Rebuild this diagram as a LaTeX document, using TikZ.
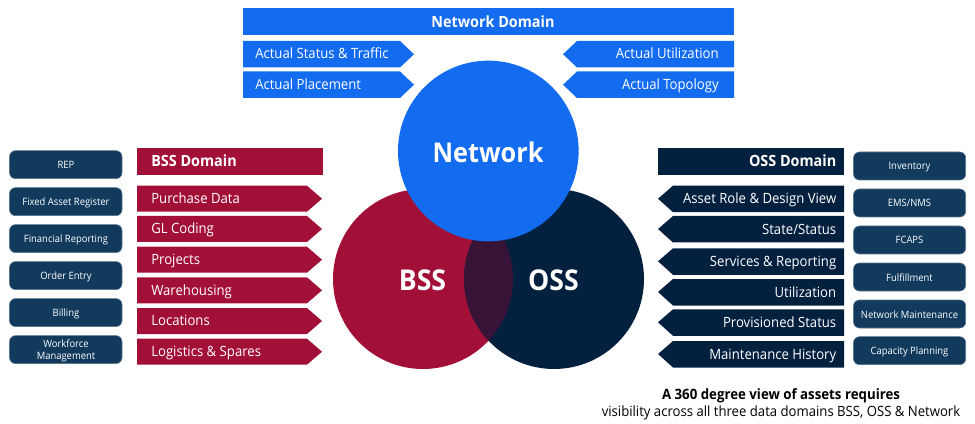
\documentclass[tikz,border=0pt]{standalone}
\usepackage{fontspec}
\setmainfont{Open Sans}[FakeStretch=0.93]
\definecolor{bssred}{HTML}{A31037}
\definecolor{ossnavy}{HTML}{04203F}
\definecolor{netblue}{HTML}{136BF0}
\definecolor{sysblue}{HTML}{123A5C}
\definecolor{lapdark}{HTML}{371437}
\tikzset{
	bartext/.style={text=white,font=\fontsize{10.6}{12}\selectfont,inner sep=0pt},
	headtext/.style={text=white,font=\fontsize{11.6}{13}\selectfont\bfseries,inner sep=0pt},
	systext/.style={text=white,font=\fontsize{7.6}{9.4}\selectfont,inner sep=0pt,align=center,execute at begin node={\vphantom{Ey}}},
	sysbox/.style={fill=sysblue,draw=sysblue!70,rounded corners=4.5pt,thin},
	disc/.style={circle,inner sep=0pt,minimum size=135pt},
	disctext/.style={text=white,font=\fontsize{21.5}{24}\selectfont\bfseries,inner sep=0pt}
}
\begin{document}
\begin{tikzpicture}[x=0.75pt,y=-0.75pt]
	\useasboundingbox (0,0) rectangle (975,424);

	% circles
	\node (bss) [disc,fill=bssred] at (423,279) {};
	\node (oss) [disc,fill=ossnavy] at (554,279) {};
	\begin{scope}
		\clip (bss.center) circle (90);
		\fill[lapdark] (oss.center) circle (90);
	\end{scope}
	\node (bsstext) [disctext] at (422.5,280) {BSS};
	\node (osstext) [disctext] at (553.5,280) {OSS};
	\node (network) [disc,fill=netblue,minimum size=135.5pt] at (488.3,151) {};
	\node (nettext) [disctext,font=\fontsize{20.4}{24}\selectfont\bfseries] at (488,152) {Network};

	% network domain
	\fill[netblue] (243,8.5) rectangle (734,35.5);
	\node (nethead) [headtext] at (493,22) {Network Domain};
	\foreach \ytop/\txt [count=\i] in {41/Actual Status \& Traffic,71.5/Actual Placement} {
		\fill[netblue] (243,\ytop) -- (400,\ytop) -- (414,\ytop+13.2) -- (400,\ytop+26.5) -- (243,\ytop+26.5) -- cycle;
		\node (netl\i) [bartext,anchor=base west] at (255,\ytop+18) {\txt};
	}
	\foreach \ytop/\txt [count=\i] in {41/Actual Utilization,71.5/Actual Topology} {
		\fill[netblue] (734,\ytop) -- (577,\ytop) -- (563,\ytop+13.2) -- (577,\ytop+26.5) -- (734,\ytop+26.5) -- cycle;
		\node (netr\i) [bartext,anchor=base east] at (719,\ytop+18) {\txt};
	}

	% bss domain
	\fill[bssred] (137,148.5) rectangle (323,175.5);
	\node (bsshead) [headtext,anchor=base west] at (151,167) {BSS Domain};
	\foreach \ytop/\txt [count=\i] in {185.7/Purchase Data,216/GL Coding,246.7/Projects,277.3/Warehousing,308/Locations,338.7/Logistics \& Spares} {
		\fill[bssred] (137,\ytop) -- (307,\ytop) -- (322,\ytop+13) -- (307,\ytop+26) -- (137,\ytop+26) -- cycle;
		\node (bssitem\i) [bartext,anchor=base west] at (151,\ytop+17.7) {\txt};
	}
	\foreach \ytop/\txt [count=\i] in {150.7/REP,187.7/Fixed Asset Register,224.6/Financial Reporting,261.6/Order Entry,298.6/Billing,335.6/{Workforce\\Management}} {
		\draw[sysbox] (9.5,\ytop) rectangle (122,\ytop+28);
		\node (bsssys\i) [systext] at (66,\ytop+15.4) {\txt};
	}

	% oss domain
	\fill[ossnavy] (658,148.5) rectangle (844,175.5);
	\node (osshead) [headtext,anchor=base east] at (836.5,167) {OSS Domain};
	\foreach \ytop/\txt [count=\i] in {185.7/Asset Role \& Design View,216/{State/Status},248.3/Services \& Reporting,279/Utilization,309.3/Provisioned Status,341/Maintenance History} {
		\fill[ossnavy] (844,\ytop) -- (673,\ytop) -- (658,\ytop+13) -- (673,\ytop+26.5) -- (844,\ytop+26.5) -- cycle;
		\node (ossitem\i) [bartext,anchor=base east] at (836.5,\ytop+18) {\txt};
	}
	\foreach \ytop/\txt [count=\i] in {152/Inventory,189/{EMS/NMS},226/FCAPS,263/Fulfillment,300/Network Maintenance,336.7/Capacity Planning} {
		\draw[sysbox] (853.5,\ytop) rectangle (965.7,\ytop+28);
		\node (osssys\i) [systext] at (909.5,\ytop+15.4) {\txt};
	}

	% caption
	\node (capone) [text=black,font=\fontsize{10.7}{12}\selectfont\bfseries,inner sep=0pt] at (781,396) {A 360 degree view of assets requires};
	\node (captwo) [text=black,font=\fontsize{10.6}{12}\selectfont,inner sep=0pt] at (781,413) {visibility across all three data domains BSS, OSS \& Network};
\end{tikzpicture}
\end{document}
